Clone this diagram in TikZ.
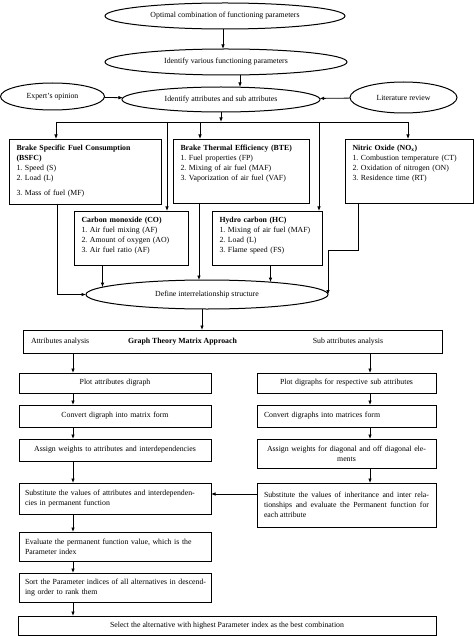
\documentclass[tikz,border=0pt]{standalone}
\usepackage{fontspec}
\setmainfont{Liberation Serif}
\usetikzlibrary{positioning, arrows.meta, shapes.geometric}

\begin{document}
\begin{tikzpicture}[->, >={Latex[length=4.5pt,width=3.6pt]}, x=1pt, y=-1pt, line width=0.8pt,
	every node/.style={font=\fontsize{7.8}{10}\selectfont\frenchspacing, outer sep=0pt},
	oval/.style={draw, ellipse, line width=1pt, inner sep=0pt},
	attrbox/.style={draw, line width=0.9pt, anchor=north west, align=left, inner xsep=7.5pt, inner ysep=3pt, text height=8.5pt},
	flow/.style={draw, line width=0.9pt, inner sep=0pt},
	leftbox/.style={flow, minimum width=192pt, text width=180pt},
	rightbox/.style={flow, minimum width=179pt, text width=165pt}]
			\useasboundingbox (0,0) rectangle (474,636);
			
			\node[oval, minimum width=240pt, minimum height=26pt] (opt) at (225,16) {Optimal combination of functioning parameters};
			\node[oval, minimum width=242pt, minimum height=26pt] (ident) at (226,62) {Identify various functioning parameters};
			\node[oval, minimum width=198pt, minimum height=25pt] (attr) at (221,99.5) {Identify attributes and sub attributes};
			\node[oval, minimum width=104pt, minimum height=27pt] (expert) at (52.5,96.5) {Expert's opinion};
			\node[oval, minimum width=107pt, minimum height=31pt] (lit) at (403.5,97.5) {Literature review};
			
			\node[attrbox, text width=137pt, text depth=50.5pt] (bsfc) at (9,139) {\textbf{Brake Specific Fuel Consumption}\\\textbf{(BSFC)}\\1. Speed (S)\\2. Load (L)\\[5pt]3. Mass of fuel (MF)};
			\node[attrbox, text width=121pt, text depth=49.5pt] (bte) at (173,139) {\textbf{Brake Thermal Efficiency (BTE)}\\1. Fuel properties (FP)\\2. Mixing of air fuel (MAF)\\3. Vaporization of air fuel (VAF)};
			\node[attrbox, text width=113pt, text depth=49.5pt] (nox) at (345,139) {\textbf{Nitric Oxide (NO\textsubscript{x})}\\1. Combustion temperature (CT)\\2. Oxidation of nitrogen (ON)\\3. Residence time (RT)};
			\node[attrbox, text width=99pt, text depth=39.5pt] (co) at (74,211) {\textbf{Carbon monoxide (CO)}\\1. Air fuel mixing (AF)\\2. Amount of oxygen (AO)\\3. Air fuel ratio (AF)};
			\node[attrbox, text width=95pt, text depth=39.5pt] (hc) at (212,211) {\textbf{Hydro carbon (HC)}\\1. Mixing of air fuel (MAF)\\2. Load (L)\\3. Flame speed (FS)};
			
			\coordinate (busL) at (56,122);
			\coordinate (busR) at (408,122);
			\coordinate (busCO) at (167,122);
			\coordinate (busBTE) at (200,122);
			\coordinate (busHC) at (319,122);
			\coordinate (nxA) at (358,250);
			
			\node[oval, minimum width=242pt, minimum height=29pt] (def) at (207,294.5) {Define interrelationship structure};
			
			\node[flow, minimum width=419pt, minimum height=23pt] (gtma) at (232.5,341.5) {};
			\node[right, inner sep=0pt] (gtmaL) at ([xshift=8pt]gtma.west) {Attributes analysis};
			\node (gtmaC) at ([xshift=-50pt]gtma.center) {\textbf{Graph Theory Matrix Approach}};
			\node (gtmaR) at ([xshift=115.5pt]gtma.center) {Sub attributes analysis};
			
			\node[leftbox, minimum height=20pt, align=center] (plotA) at (115,383) {Plot attributes digraph};
			\node[leftbox, minimum height=22pt, align=center, below=12pt of plotA] (convA) {Convert digraph into matrix form};
			\node[leftbox, minimum height=22pt, align=center, below=12pt of convA] (assignA) {Assign weights to attributes and interdependencies};
			\node[leftbox, minimum height=31pt, align=left, below=22pt of assignA] (substA) {Substitute the values of attributes and interdependen-\\cies in permanent function};
			\node[leftbox, minimum height=29pt, align=left, below=18pt of substA] (evalA) {Evaluate the permanent function value, which is the\\Parameter index};
			\node[leftbox, minimum height=29pt, align=left, below=12pt of evalA] (sortA) {\mbox{Sort the Parameter indices of all alternatives in descend-}\\ing order to rank them};
			\node[flow, minimum width=418pt, minimum height=19pt] (select) at (227,625.5) {Select the alternative with highest Parameter index as the best combination};
			
			\node[rightbox, minimum height=20pt, align=center] (plotB) at (346.5,383) {Plot digraphs for respective sub attributes};
			\node[rightbox, minimum height=22pt, align=left, below=12pt of plotB] (convB) {Convert digraphs into matrices form};
			\node[rightbox, minimum height=29pt, align=center, below=12pt of convB] (assignB) {Assign weights for diagonal and off diagonal ele-\\ments};
			\node[rightbox, minimum height=44pt, align=justify, below=15pt of assignB] (substB) {Substitute the values of inheritance and inter rela-\linebreak tionships and evaluate the Permanent function for\linebreak each attribute};
			
			\coordinate (colA) at (73,0);
			\coordinate (colB) at (370,0);
			
			% top part
			\draw ([xshift=-2pt]opt.south) -- ([xshift=-3pt]ident.north);
			\draw ([xshift=14pt]ident.south) -- ([xshift=19pt]attr.north);
			\draw (expert) -- (attr);
			\draw (lit) -- (attr);
			\draw (attr.south) -- (attr.south |- busL);
			\draw[-] (busL) -- (busR);
			\draw (busL) -- (busL |- bsfc.north);
			\draw (busBTE) -- (busBTE |- bte.north);
			\draw (busR) -- (busR |- nox.north);
			\draw (busCO) -- (busCO |- co.north);
			\draw (busHC) -- (busHC |- hc.north);
			
			% into the structure
			\draw ([xshift=48pt]bsfc.south west) |- (def.west);
			\draw (def.176 |- co.south) -- (def.176);
			\draw (def.119 |- bte.south) -- (def.119);
			\draw (def.11 |- hc.south) -- (def.11);
			\draw (nxA |- nox.south) -- (nxA) -| (def.east);
			\draw ([xshift=-5pt]def.south) -- ([xshift=-5pt]def.south |- gtma.north);
			
			% two columns
			\draw (colA |- gtma.south) -- (colA |- plotA.north);
			\draw (colA |- plotA.south) -- (colA |- convA.north);
			\draw (colA |- convA.south) -- (colA |- assignA.north);
			\draw (colA |- assignA.south) -- (colA |- substA.north);
			\draw (colA |- substA.south) -- (colA |- evalA.north);
			\draw (colA |- evalA.south) -- (colA |- sortA.north);
			\draw (colA |- sortA.south) -- (colA |- select.north);
			\draw (colB |- gtma.south) -- (colB |- plotB.north);
			\draw (colB |- plotB.south) -- (colB |- convB.north);
			\draw (colB |- convB.south) -- (colB |- assignB.north);
			\draw (colB |- assignB.south) -- (colB |- substB.north);
			\draw ([yshift=11pt]substB.west) -- ([yshift=11pt]substB.west -| substA.east);
		\end{tikzpicture}
\end{document}
